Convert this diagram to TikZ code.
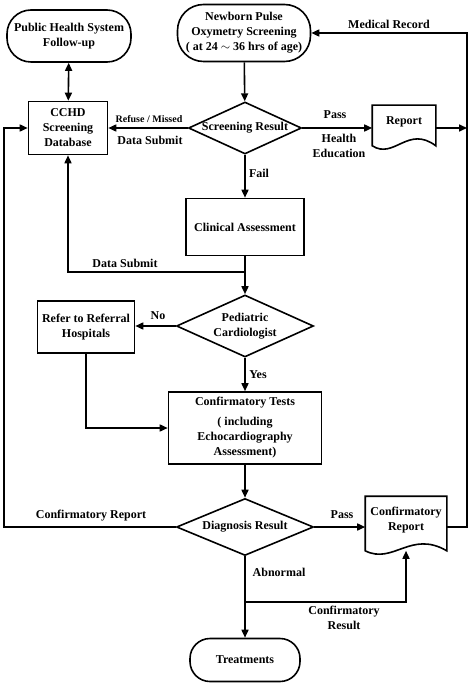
\documentclass[tikz,border=0pt]{standalone}
\usepackage{fontspec}
\setmainfont{Liberation Serif}
\usetikzlibrary{arrows.meta,shapes,positioning,calc}

\tikzset{
  flowtext/.style={font=\bfseries\fontsize{12}{15}\selectfont, align=center},
  termbox/.style={flowtext, draw, rectangle, inner sep=1pt},
  procbox/.style={flowtext, draw, rectangle, inner sep=2pt},
  decbox/.style={flowtext, draw, diamond, inner sep=-2pt},
  docnode/.style={flowtext, inner sep=0pt},
  lbl/.style={font=\bfseries\fontsize{12}{15}\selectfont, align=center},
  smalllbl/.style={font=\bfseries\fontsize{10}{12}\selectfont},
  arr/.style={-{Triangle[length=8pt,width=7pt]}}
}

\begin{document}
\begin{tikzpicture}[x=1pt, y=-1pt, line width=1.6pt]
\useasboundingbox (0,0) rectangle (474,684);

% terminals
\node[termbox, rounded corners=24pt, minimum width=124, minimum height=52] (phs) at (69,36) {Public Health System\\Follow-up};
\node[termbox, rounded corners=26pt, minimum width=133, minimum height=57] (newborn) at (244,33) {Newborn Pulse\\Oxymetry Screening\\( at 24 $\sim$ 36 hrs of age)};
\node[termbox, rounded corners=20pt, minimum width=110, minimum height=43] (treat) at (245,660) {Treatments};

% boxes
\node[procbox, minimum width=79, minimum height=53] (cchd) at (68,128) {CCHD\\Screening\\Database};
\node[procbox, minimum width=118, minimum height=57] (clin) at (245,227) {Clinical Assessment};
\node[procbox, minimum width=97, minimum height=52] (refer) at (86,327) {Refer to Referral\\Hospitals};
\node[procbox, minimum width=153, minimum height=72] (conf) at (245,428) {Confirmatory Tests\\[5pt]( including\\Echocardiography\\Assessment)};

% decisions
\node[decbox, aspect=2.17, minimum width=113, minimum height=52] (screen) at (245,128) {Screening Result};
\node[decbox, aspect=2.2, minimum width=137, minimum height=62] (ped) at (245,326) {Pediatric\\Cardiologist};
\node[decbox, aspect=2.4, minimum width=137, minimum height=57] (diag) at (245,527) {Diagnosis Result};

% documents
\node[docnode, minimum width=62, minimum height=32] (report) at (404,122) {Report};
\draw (report.north west) -- (report.north east) -- ([yshift=-7pt]report.south east)
  .. controls ([shift={(-28pt,14pt)}]report.south east) and ([shift={(22pt,-21pt)}]report.south west)
  .. ([yshift=-7pt]report.south west) -- cycle;
\node[docnode, minimum width=80, minimum height=46] (cfrep) at (406,520) {Confirmatory\\Report};
\draw (cfrep.north west) -- (cfrep.north east) -- ([yshift=-7pt]cfrep.south east)
  .. controls ([shift={(-36pt,14pt)}]cfrep.south east) and ([shift={(28pt,-21pt)}]cfrep.south west)
  .. ([yshift=-7pt]cfrep.south west) -- cycle;

% helper points
\coordinate (lft) at (4,0);
\coordinate (rgt) at (467,0);
\coordinate (ds) at (245,272);
\coordinate (br) at (245,602);

% connectors
\draw[{Triangle[length=8pt,width=7pt]}-{Triangle[length=8pt,width=7pt]}] (phs) -- (cchd);
\draw[arr] (newborn) -- (screen);
\draw[arr] (screen.west) -- (cchd.east);
\draw[arr] (screen.east) -- (screen.east -| report.west);
\draw[arr] (screen.east -| report.east) -- (screen.east -| rgt);
\draw[arr] (diag.east -| cfrep.east) -- (diag.east -| rgt) -- (newborn.east -| rgt) -- (newborn.east);
\draw[arr] (screen) -- (clin);
\draw[arr] (clin) -- (ped);
\draw[arr] (ds) -| (cchd.south);
\draw[arr] (ped.west) -- (ped.west -| refer.east);
\draw[arr] (refer.south) |- (conf.west);
\draw[arr] (ped) -- (conf);
\draw[arr] (conf) -- (diag);
\draw[arr] (diag.west) -- (diag.west -| lft) -- (cchd.west -| lft) -- (cchd.west);
\draw[arr] (diag.east) -- (diag.east -| cfrep.west);
\draw[arr] (diag) -- (treat);
\draw[arr] (br) -| ([yshift=-7pt]cfrep.south);

% labels
\node[smalllbl] (lrefuse) at (149,119) {Refuse / Missed};
\node[lbl] (lsub1) at (150,140) {Data Submit};
\node[lbl] (lpass1) at (335,115) {Pass};
\node[lbl] (lhealth) at (339,146) {Health\\Education};
\node[lbl] (lmed) at (389,24) {Medical Record};
\node[lbl] (lfail) at (259,173) {Fail};
\node[lbl] (lsub2) at (125,263) {Data Submit};
\node[lbl] (lno) at (158,316) {No};
\node[lbl] (lyes) at (258,375) {Yes};
\node[lbl] (lcrep) at (91,516) {Confirmatory Report};
\node[lbl] (lpass2) at (342,515) {Pass};
\node[lbl] (labn) at (279,572) {Abnormal};
\node[lbl] (lcres) at (344,618) {Confirmatory\\Result};
\end{tikzpicture}
\end{document}
